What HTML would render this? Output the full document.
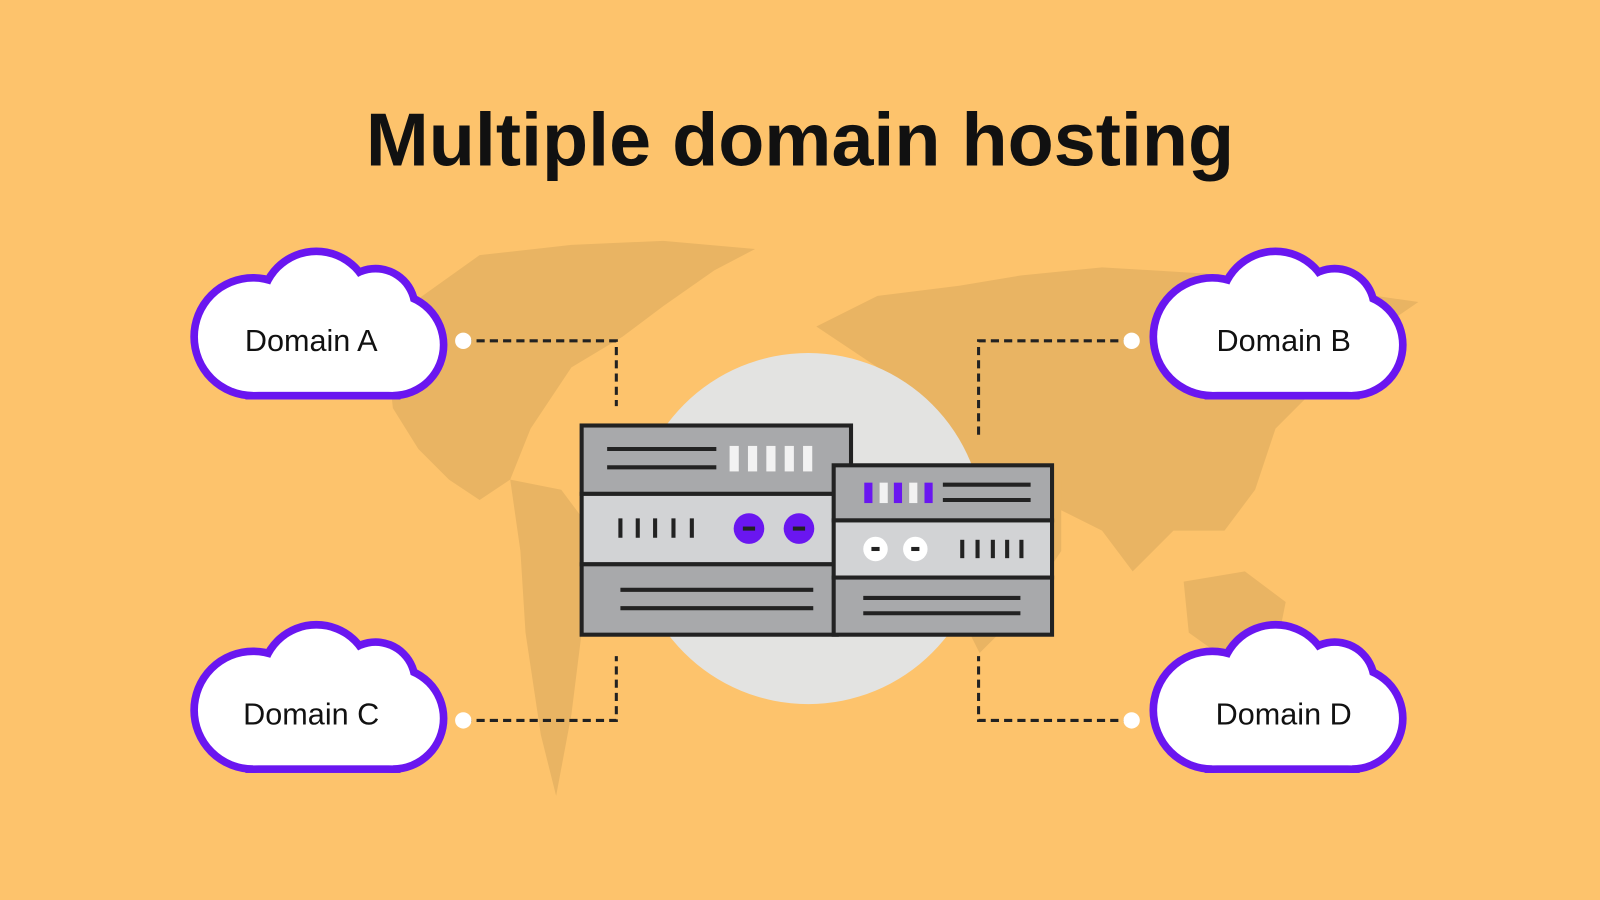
<!DOCTYPE html>
<html><head><meta charset="utf-8"><style>
html,body{margin:0;padding:0;background:#FDC36C;}
svg{display:block;}
text{font-family:"Liberation Sans",sans-serif;}
</style></head><body>
<svg width="1600" height="900" viewBox="0 0 1568 882" xmlns="http://www.w3.org/2000/svg">
<rect width="1568" height="882" fill="#FDC36C"/>
<g fill="#E9B463">
<path d="M400 300 L470 250 L560 240 L650 236 L740 244 L700 265 L650 300 L610 330 L560 360 L520 420 L500 470 L470 490 L440 470 L410 440 L385 400 L380 350 Z"/>
<path d="M500 470 L550 480 L580 520 L600 560 L570 620 L560 700 L545 780 L530 720 L515 620 L510 540 Z"/>
<path d="M800 320 L860 290 L940 280 L1000 270 L1080 262 L1180 268 L1280 280 L1390 296 L1340 330 L1290 380 L1250 420 L1230 480 L1200 520 L1150 520 L1110 560 L1080 520 L1040 500 L1000 470 L960 440 L900 400 L860 360 Z"/>
<path d="M900 420 L980 430 L1040 470 L1040 540 L1000 600 L960 640 L930 580 L910 520 L890 470 Z"/>
<path d="M1160 570 L1220 560 L1260 590 L1250 640 L1200 645 L1165 620 Z"/>
</g>
<circle cx="792" cy="518" r="172" fill="#E3E3E1"/>
<text x="784" y="162" font-size="74" font-weight="bold" text-anchor="middle" fill="#111">Multiple domain hosting</text>
<g stroke="#222" stroke-width="3" stroke-dasharray="8 5" fill="none">
<path d="M454 334 H604 V398"/>
<path d="M1109 334 H959 V430"/>
<path d="M454 706 H604 V643"/>
<path d="M1109 706 H959 V643"/>
</g>
<g fill="#fff"><circle cx="454" cy="334" r="8"/><circle cx="1109" cy="334" r="8"/><circle cx="454" cy="706" r="8"/><circle cx="1109" cy="706" r="8"/></g>
<defs>
<g id="cl">
<rect x="248" y="320" width="137" height="64"/>
<circle cx="248" cy="330" r="54"/>
<circle cx="310" cy="300" r="50"/>
<circle cx="368" cy="302" r="35"/>
<circle cx="385" cy="338" r="46"/>
</g>
</defs>
<g id="c1">
<use href="#cl" fill="#6A16F0" stroke="#6A16F0" stroke-width="15"/>
<use href="#cl" fill="#fff"/>
</g>
<use href="#c1" transform="translate(940,0)"/>
<use href="#c1" transform="translate(0,366)"/>
<use href="#c1" transform="translate(940,366)"/>
<g font-size="30" fill="#111" text-anchor="middle">
<text x="305" y="344">Domain A</text>
<text x="1258" y="344">Domain B</text>
<text x="305" y="710">Domain C</text>
<text x="1258" y="710">Domain D</text>
</g>
<g stroke="#222" stroke-width="4">
<rect x="570" y="417" width="264" height="67" fill="#A8A9AB"/>
<rect x="570" y="484" width="250" height="69" fill="#D2D3D5"/>
<rect x="570" y="553" width="250" height="69" fill="#A8A9AB"/>
<rect x="817" y="456" width="214" height="54" fill="#A8A9AB"/>
<rect x="817" y="510" width="214" height="56" fill="#D2D3D5"/>
<rect x="817" y="566" width="214" height="56" fill="#A8A9AB"/>
<path d="M595 440H702M595 458H702M608 578H797M608 596H797M924 475H1010M924 490H1010M846 586H1000M846 601H1000"/>
</g>
<g fill="#F2F2F2"><rect x="715" y="437" width="9" height="25"/><rect x="733" y="437" width="9" height="25"/><rect x="751" y="437" width="9" height="25"/><rect x="769" y="437" width="9" height="25"/><rect x="787" y="437" width="9" height="25"/>
<rect x="862" y="473" width="8" height="20"/><rect x="891" y="473" width="8" height="20"/></g>
<g fill="#6A16F0"><rect x="847" y="473" width="8" height="20"/><rect x="876" y="473" width="8" height="20"/><rect x="906" y="473" width="8" height="20"/>
<circle cx="734" cy="518" r="15"/><circle cx="783" cy="518" r="15"/></g>
<g fill="#fff"><circle cx="858" cy="538" r="12"/><circle cx="897" cy="538" r="12"/></g>
<g fill="#222">
<rect x="606" y="508" width="4" height="19"/><rect x="623" y="508" width="4" height="19"/><rect x="640" y="508" width="4" height="19"/><rect x="658" y="508" width="4" height="19"/><rect x="676" y="508" width="4" height="19"/>
<rect x="941" y="529" width="4" height="18"/><rect x="956" y="529" width="4" height="18"/><rect x="971" y="529" width="4" height="18"/><rect x="985" y="529" width="4" height="18"/><rect x="999" y="529" width="4" height="18"/>
<rect x="728" y="516" width="12" height="4"/><rect x="777" y="516" width="12" height="4"/>
<rect x="854" y="536" width="8" height="4"/><rect x="893" y="536" width="8" height="4"/>
</g>
</svg>
</body></html>
